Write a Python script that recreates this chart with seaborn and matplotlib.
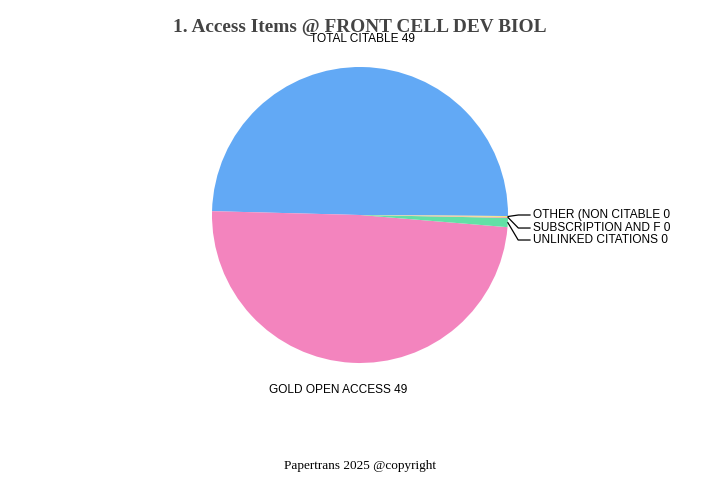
import numpy as np
import matplotlib
matplotlib.use("Agg")
import matplotlib.pyplot as plt
import seaborn as sns

# slice values (share of items)
categories = ["TOTAL CITABLE", "GOLD OPEN ACCESS", "UNLINKED CITATIONS",
              "SUBSCRIPTION AND F", "OTHER (NON CITABLE"]
values = [49.7, 49.1, 1.0, 0.1, 0.1]
shown = [49, 49, 0, 0, 0]
colors = ["#62a9f5", "#f384be", "#62e0a6", "#f6a29a", "#f2e07a"]

sns.set_theme(style="white")
plt.rcParams["font.family"] = ["Liberation Sans", "DejaVu Sans"]

fig = plt.figure(figsize=(7.2, 4.8), dpi=100)
R = 148.0
ax = fig.add_axes([0, 0, 1, 1])

wedges, _ = ax.pie(values, colors=colors, startangle=-0.4, counterclock=True,
                   radius=1.0, center=(0, 0), wedgeprops=dict(linewidth=0))
ax.set_xlim(-360 / R, 360 / R)
ax.set_ylim(-265 / R, 215 / R)
ax.set_aspect("equal")
ax.axis("off")

# big slices: labels outside, a little off the middle angle like the original
for w, name, n, shift in zip(wedges[:2], categories[:2], shown[:2], [0, -4]):
    mid = np.deg2rad((w.theta1 + w.theta2) / 2 + shift)
    ax.text(1.19 * np.cos(mid), 1.19 * np.sin(mid), f"{name} {n}",
            ha="center", va="center", fontsize=8.6, color="black")

# tiny slices: leader lines to the right
text_y = {4: 0.0, 3: -0.088, 2: -0.169}
for i in [4, 3, 2]:
    w = wedges[i]
    mid = np.deg2rad((w.theta1 + w.theta2) / 2)
    ex, ey = np.cos(mid), np.sin(mid)
    ty = text_y[i]
    ax.plot([ex, ex + 0.07, 1.15], [ey, ty, ty], color="black", lw=0.9)
    ax.text(1.17, ty, f"{categories[i]} {shown[i]}", ha="left", va="center",
            fontsize=8.6, color="black")

fig.text(0.5, 1 - 27 / 480, "1. Access Items @ FRONT CELL DEV BIOL",
         ha="center", va="center", fontsize=13.9, fontweight="bold",
         color="#444444", family=["Liberation Serif", "DejaVu Serif"])
fig.text(0.5, 1 - 466 / 480, "Papertrans 2025 @copyright",
         ha="center", va="center", fontsize=9.5, color="black",
         family=["Liberation Serif", "DejaVu Serif"])

fig.savefig("out.png", dpi=100, facecolor="white")
